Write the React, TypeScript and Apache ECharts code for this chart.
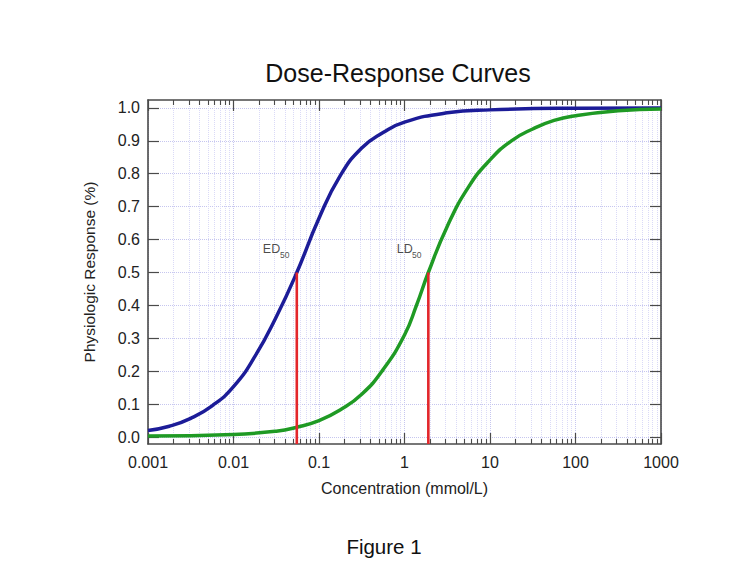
import React, { useEffect, useRef } from "react";
import * as echarts from "echarts";

// Concentration (mmol/L) and response fraction for the efficacy curve
const doseBlue = [0.001, 0.00178, 0.00316, 0.00562, 0.01, 0.0178, 0.0316, 0.055, 0.1, 0.178, 0.316, 0.562, 1, 3.16, 10, 100, 1000];
const respBlue = [0.02, 0.033, 0.057, 0.095, 0.153, 0.245, 0.365, 0.5, 0.665, 0.795, 0.878, 0.925, 0.957, 0.985, 0.994, 0.999, 1.0];

// Concentration (mmol/L) and response fraction for the lethality curve
const doseGreen = [0.001, 0.01, 0.0316, 0.055, 0.1, 0.178, 0.316, 0.562, 1, 1.38, 1.9, 3.16, 5.62, 10, 17.8, 31.6, 56.2, 100, 316, 1000];
const respGreen = [0.003, 0.008, 0.018, 0.03, 0.05, 0.083, 0.13, 0.205, 0.31, 0.4, 0.5, 0.64, 0.76, 0.842, 0.9, 0.936, 0.962, 0.976, 0.991, 0.997];

const ed50 = 0.055;
const ld50 = 1.9;
const halfResponse = 0.5;

const yTicks = [0, 0.1, 0.2, 0.3, 0.4, 0.5, 0.6, 0.7, 0.8, 0.9, 1.0];
const decadeExponents = [-3, -2, -1, 0, 1, 2];
const minorMultipliers = [2, 3, 4, 5, 6, 7, 8, 9];

const X_MIN = 0.001;
const X_MAX = 1000;
const Y_MIN = -0.021;
const Y_MAX = 1.024;

const FONT = "'Liberation Sans', Arial, Helvetica, sans-serif";
const BLUE = "#1c1c98";
const GREEN = "#1f9a24";
const RED = "#e3262b";
const FRAME = "#4a4a4a";
const GRID_MAJOR = "#c6c6ef";
const GRID_MINOR = "#dadaf7";

// minor log ticks (2..9 within each decade), expressed in log10 space
const minorLogTicks: number[] = [];
decadeExponents.forEach((e) => minorMultipliers.forEach((m) => minorLogTicks.push(e + Math.log10(m))));

const pairs = (xs: number[], ys: number[]) => xs.map((x, i) => [x, ys[i]]);

export default function App() {
  const ref = useRef<HTMLDivElement>(null);

  useEffect(() => {
    if (!ref.current) return;
    const chart = echarts.init(ref.current, null, { renderer: "svg" });

    const frameLine = { show: true, onZero: false, lineStyle: { color: FRAME, width: 1.6 } };

    const majorLogAxis = (position: "top" | "bottom", withLabels: boolean) => ({
      type: "log",
      logBase: 10,
      min: X_MIN,
      max: X_MAX,
      interval: 1,
      position,
      gridIndex: 0,
      axisLine: frameLine,
      axisTick: { show: true, inside: true, length: 11, lineStyle: { color: FRAME, width: 1.2 } },
      axisLabel: {
        show: withLabels,
        margin: 10,
        fontSize: 16,
        color: "#222",
        fontFamily: FONT,
        formatter: (v: number) => String(v),
      },
      splitLine: withLabels
        ? { show: true, lineStyle: { color: GRID_MAJOR, type: "dotted", width: 1 } }
        : { show: false },
      name: withLabels ? "Concentration (mmol/L)" : "",
      nameLocation: "middle",
      nameGap: 36,
      nameTextStyle: { fontSize: 16, color: "#222", fontFamily: FONT },
    });

    const minorAxis = (position: "top" | "bottom", withGrid: boolean) => ({
      type: "value",
      min: -3,
      max: 3,
      position,
      gridIndex: 0,
      axisLine: { show: false, onZero: false },
      axisTick: {
        show: true,
        inside: true,
        length: 5,
        customValues: minorLogTicks,
        lineStyle: { color: FRAME, width: 1.1 },
      },
      axisLabel: { show: false },
      splitLine: withGrid
        ? { show: true, lineStyle: { color: GRID_MINOR, type: "dotted", width: 1 } }
        : { show: false },
    });

    const yAxisSide = (position: "left" | "right", withLabels: boolean) => ({
      type: "value",
      min: Y_MIN,
      max: Y_MAX,
      position,
      gridIndex: 0,
      axisLine: frameLine,
      axisTick: {
        show: true,
        inside: true,
        length: 11,
        customValues: yTicks,
        lineStyle: { color: FRAME, width: 1.2 },
      },
      axisLabel: {
        show: withLabels,
        customValues: yTicks,
        margin: 8,
        fontSize: 16,
        color: "#222",
        fontFamily: FONT,
        formatter: (v: number) => v.toFixed(1),
      },
      splitLine: withLabels
        ? { show: true, lineStyle: { color: GRID_MAJOR, type: "dotted", width: 1 } }
        : { show: false },
      name: withLabels ? "Physiologic Response (%)" : "",
      nameLocation: "middle",
      nameGap: 51,
      nameTextStyle: { fontSize: 15.5, color: "#222", fontFamily: FONT },
    });

    const subLabel = (point: number[], text: string, dx: number, dy: number, size: number) => ({
      value: point,
      label: {
        show: true,
        formatter: text,
        position: [dx, dy],
        align: "left",
        verticalAlign: "middle",
        fontSize: size,
        color: "#1a1a1a",
        fontFamily: FONT,
      },
    });

    chart.setOption({
      animation: false,
      backgroundColor: "#ffffff",
      title: [
        {
          text: "Dose-Response Curves",
          left: 393,
          textAlign: "center",
          top: 55,
          textStyle: { fontSize: 25, fontWeight: "normal", color: "#111", fontFamily: FONT },
        },
        {
          text: "Figure 1",
          left: 379,
          textAlign: "center",
          top: 531,
          textStyle: { fontSize: 20.5, fontWeight: "normal", color: "#111", fontFamily: FONT },
        },
      ],
      grid: { left: 148, right: 73, top: 100, bottom: 120, containLabel: false, outerBoundsMode: "none" },
      xAxis: [
        majorLogAxis("bottom", true),
        majorLogAxis("top", false),
        minorAxis("bottom", true),
        minorAxis("top", false),
      ],
      yAxis: [yAxisSide("left", true), yAxisSide("right", false)],
      series: [
        {
          name: "ED",
          type: "line",
          xAxisIndex: 0,
          yAxisIndex: 0,
          data: pairs(doseBlue, respBlue),
          smooth: 0.5,
          showSymbol: false,
          lineStyle: { color: BLUE, width: 3.5 },
          z: 3,
        },
        {
          name: "LD",
          type: "line",
          xAxisIndex: 0,
          yAxisIndex: 0,
          data: pairs(doseGreen, respGreen),
          smooth: 0.5,
          showSymbol: false,
          lineStyle: { color: GREEN, width: 3.5 },
          z: 3,
        },
        {
          type: "line",
          xAxisIndex: 0,
          yAxisIndex: 0,
          data: [[ed50, Y_MIN], [ed50, halfResponse]],
          showSymbol: false,
          lineStyle: { color: RED, width: 2.6 },
          z: 4,
        },
        {
          type: "line",
          xAxisIndex: 0,
          yAxisIndex: 0,
          data: [[ld50, Y_MIN], [ld50, halfResponse]],
          showSymbol: false,
          lineStyle: { color: RED, width: 2.6 },
          z: 4,
        },
        {
          type: "scatter",
          xAxisIndex: 0,
          yAxisIndex: 0,
          symbolSize: 0,
          silent: true,
          z: 5,
          data: [
            subLabel([ed50, halfResponse], "ED", -34, -23, 12.5),
            subLabel([ed50, halfResponse], "50", -16.8, -17, 8.5),
            subLabel([ld50, halfResponse], "LD", -31.6, -23, 12.5),
            subLabel([ld50, halfResponse], "50", -16.4, -17, 8.5),
          ],
        },
      ],
    });

    return () => chart.dispose();
  }, []);

  return (
    <div
      ref={ref}
      style={{ position: "absolute", left: 0, top: 0, width: 734, height: 564, background: "#fff" }}
    />
  );
}
